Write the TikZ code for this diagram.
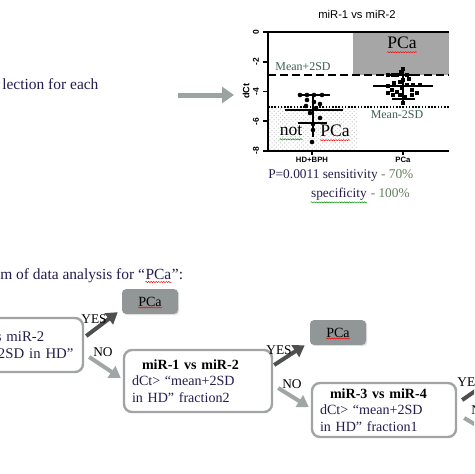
\documentclass[tikz,border=0pt]{standalone}
\usepackage{fontspec}
\setmainfont{Liberation Serif}
\setsansfont{Liberation Sans}
\usetikzlibrary{arrows.meta,positioning,calc,patterns,shadows,decorations.pathmorphing}

\definecolor{ink}{RGB}{38,28,78}
\definecolor{boxline}{RGB}{160,164,164}
\definecolor{pcafill}{RGB}{145,150,150}
\definecolor{shadegray}{RGB}{166,166,166}
\definecolor{yesgray}{RGB}{78,80,80}
\definecolor{nogray}{RGB}{160,166,165}
\definecolor{bigarrow}{RGB}{155,165,160}
\definecolor{pctgreen}{RGB}{100,128,95}
\definecolor{meangreen}{RGB}{60,95,80}

\begin{document}
\begin{tikzpicture}[x=0.25mm, y=-0.25mm,
  txt/.style={font=\fontsize{11}{13}\selectfont, text=ink, inner sep=0pt},
  lbl/.style={font=\fontsize{9.5}{11}\selectfont, inner sep=0pt},
  flowbox/.style={draw=boxline, line width=0.6mm, rounded corners=2mm, align=left, inner xsep=2mm,
    font=\fontsize{10}{11.8}\selectfont, text=ink},
  pcabox/.style={fill=pcafill, rounded corners=1mm, minimum width=14mm, minimum height=6.2mm,
    font=\fontsize{10}{12}\selectfont, drop shadow={opacity=0.25, shadow xshift=0.3mm, shadow yshift=-0.3mm}},
  yes/.style={-{Triangle[length=2.8mm,width=3.4mm]}, line width=1mm, yesgray},
  no/.style={-{Triangle[length=2.8mm,width=3.4mm]}, line width=1mm, nogray},
  squig/.style={decorate, decoration={snake, amplitude=0.4pt, segment length=1.8pt}, line width=0.35pt, #1},
  squig/.default=red,
  ticklab/.style={font=\sffamily\bfseries\fontsize{6}{6.5}\selectfont, rotate=90, inner sep=0pt},
  xlab/.style={font=\sffamily\bfseries\fontsize{5.5}{6}\selectfont, inner sep=0pt},
  dot/.style={circle, fill=black, minimum size=1.15mm, inner sep=0pt},
  sq/.style={rectangle, fill=black, minimum size=1.2mm, inner sep=0pt},
  big/.style={font=\fontsize{12.5}{14}\selectfont, inner sep=0pt},
]
\useasboundingbox (0,0) rectangle (474,474);
\clip (0,0) rectangle (474,474);
\fill[white] (0,0) rectangle (474,474);

% Top: selection text and arrow
\node[txt, anchor=west] (sel) at (2,84) {lection for each};
\coordinate (selA) at (178,95);
\coordinate (selB) at (234,95);
\draw[-{Triangle[length=3mm,width=4mm]}, line width=1.25mm, bigarrow] (selA) -- (selB);

% Plot
\node[font=\sffamily\fontsize{8}{9}\selectfont] (ptitle) at (357,14) {miR-1 vs miR-2};
\fill[shadegray] (353,32) rectangle (449,75);
\fill[pattern=crosshatch dots, pattern color=gray!40] (269,107) rectangle (357,150);
\draw[line width=0.5mm] (268,32) -- (449,32);
\draw[line width=0.5mm] (268,31) -- (268,151) -- (449,151);
\foreach \v/\yy in {0/32,-2/61.75,-4/91.5,-6/121.25,-8/151} {
  \draw[line width=0.4mm] (263,\yy) -- (268,\yy);
  \node[ticklab] at (256,\yy) {\v};
}
\draw[line width=0.4mm] (312,151) -- (312,155);
\draw[line width=0.4mm] (403,151) -- (403,155);
\node[xlab] (xhd) at (312,160) {HD+BPH};
\node[xlab] (xpca) at (403,160) {PCa};
\node[font=\sffamily\bfseries\fontsize{6.5}{7}\selectfont, rotate=90] (dct) at (246,91) {dCt};

% Cut-off lines
\draw[line width=0.45mm, dash pattern=on 2mm off 1mm] (268,75) -- (449,75);
\draw[line width=0.45mm, dash pattern=on 0.4mm off 0.4mm] (268,107) -- (449,107);
\node[font=\fontsize{8.5}{10}\selectfont, text=meangreen, inner sep=0pt] (mup) at (303,67) {Mean+2SD};
\node[font=\fontsize{8.5}{10}\selectfont, text=meangreen, inner sep=0pt] (mlo) at (397,115) {Mean-2SD};
\node[big] (pcaup) at (402,43) {PCa};
\node[big] (notw) at (291,131) {not};
\node[big] (notpca) at (335,131) {PCa};
\draw[squig=red] ([shift={(0,3)}]pcaup.south west) -- ([shift={(0,3)}]pcaup.south east);
\draw[squig=green!60!black] ([shift={(0,3)}]notw.south west) -- ([shift={(0,3)}]notw.south east);
\draw[squig=red] ([shift={(0,3)}]notpca.south west) -- ([shift={(0,3)}]notpca.south east);

% HD+BPH group
\foreach \px/\py in {300/95,307/95,314/95,322/95,307/100,314/102,320/104,306/106,316/108,310/113,320/118,313/124,313/130,312/142}
  \node[dot] at (\px,\py) {};
\draw[line width=0.5mm] (285,110) -- (343,110);
\draw[line width=0.5mm] (298,95) -- (330,95);
\draw[line width=0.5mm] (298,123) -- (327,123);
\draw[line width=0.5mm] (313,95) -- (313,137);

% PCa group
\foreach \px/\py in {388/75,393/75,397/75,401/72,403/69,407/75,409/79,403/80,400/82,394/83,388/86,392/90,397/92,402/88,407/85,412/90,413/85,420/85,417/93,412/95,405/97,400/95,393/95,388/93,403/103}
  \node[sq] at (\px,\py) {};
\draw[line width=0.5mm] (373,86) -- (433,86);
\draw[line width=0.5mm] (390,75) -- (418,75);
\draw[line width=0.5mm] (392,99) -- (415,99);
\draw[line width=0.5mm] (403,70) -- (403,103);

% Statistics
\node[lbl, anchor=west, text=ink] (pval) at (268,175) {P=0.0011 sensitivity \textcolor{pctgreen}{- 70\%}};
\node[lbl, anchor=east, text=pctgreen] (spec100) at (410,193) {- 100\%};
\node[lbl, anchor=base east, text=ink] (spec) at ([xshift=-2.5pt]spec100.base west) {specificity};
\draw[squig=green!60!black] ([shift={(0,5)}]spec.base west) -- ([shift={(0,5)}]spec.base east);

% Flow of data analysis
\node[txt, anchor=base west] (headA) at (0,279) {m of data analysis for ``};
\node[txt, anchor=base west] (headB) at (headA.base east) {PCa};
\node[txt, anchor=base west] (headC) at (headB.base east) {'':};
\draw[squig=red] ([shift={(0,3)}]headB.base west) -- ([shift={(0,3)}]headB.base east);

\node[flowbox, text width=43mm, inner xsep=0.5mm, align=center, minimum height=13.5mm, font=\fontsize{10.5}{12.3}\selectfont] (cond1) at (-5,345)
  {miR-1 vs miR-2\\dCt> ``mean+2SD in HD''};
\node[flowbox, text width=33mm, minimum height=15.5mm] (cond2) at (198,381)
  {\hspace*{2.5mm}\textcolor{black}{\bfseries miR-1 vs miR-2}\\dCt> ``mean+2SD\\in HD'' fraction2};
\node[flowbox, text width=32mm, minimum height=13.5mm] (cond3) at (384,410)
  {\hspace*{2.5mm}\textcolor{black}{\bfseries miR-3 vs miR-4}\\dCt> ``mean+2SD\\in HD'' fraction1};

\node[pcabox] (pca1) at (150,301.5) {PCa};
\node[pcabox] (pca2) at (338,332.5) {PCa};
\draw[squig=red] ([shift={(-12,6)}]pca1.center) -- ([shift={(12,6)}]pca1.center);
\draw[squig=red] ([shift={(-12,6)}]pca2.center) -- ([shift={(12,6)}]pca2.center);

\coordinate (out3y) at (494,378);
\coordinate (out3n) at (498,438);

\draw[yes] ([shift={(2,-9)}]cond1.east) -- ([shift={(-4,-2)}]pca1.south west);
\draw[no] ([shift={(5,12)}]cond1.east) -- ([shift={(-2,-3)}]cond2.west);
\draw[yes] ([shift={(1,-16)}]cond2.east) -- ([shift={(-5,0)}]pca2.south west);
\draw[no] ([shift={(5,7)}]cond2.east) -- ([shift={(-2,-3)}]cond3.west);
\draw[yes] ([shift={(5,-10)}]cond3.east) -- (out3y);
\draw[no] ([shift={(7,8)}]cond3.east) -- (out3n);

\node[lbl] (yes1) at (94,319) {YES};
\node[lbl] (no1) at (103,352) {NO};
\node[lbl] (yes2) at (279,350) {YES};
\node[lbl] (no2) at (292,384) {NO};
\node[lbl] (yes3) at (470,382) {YES};
\node[lbl] (no3) at (481,410) {NO};

\end{tikzpicture}
\end{document}
